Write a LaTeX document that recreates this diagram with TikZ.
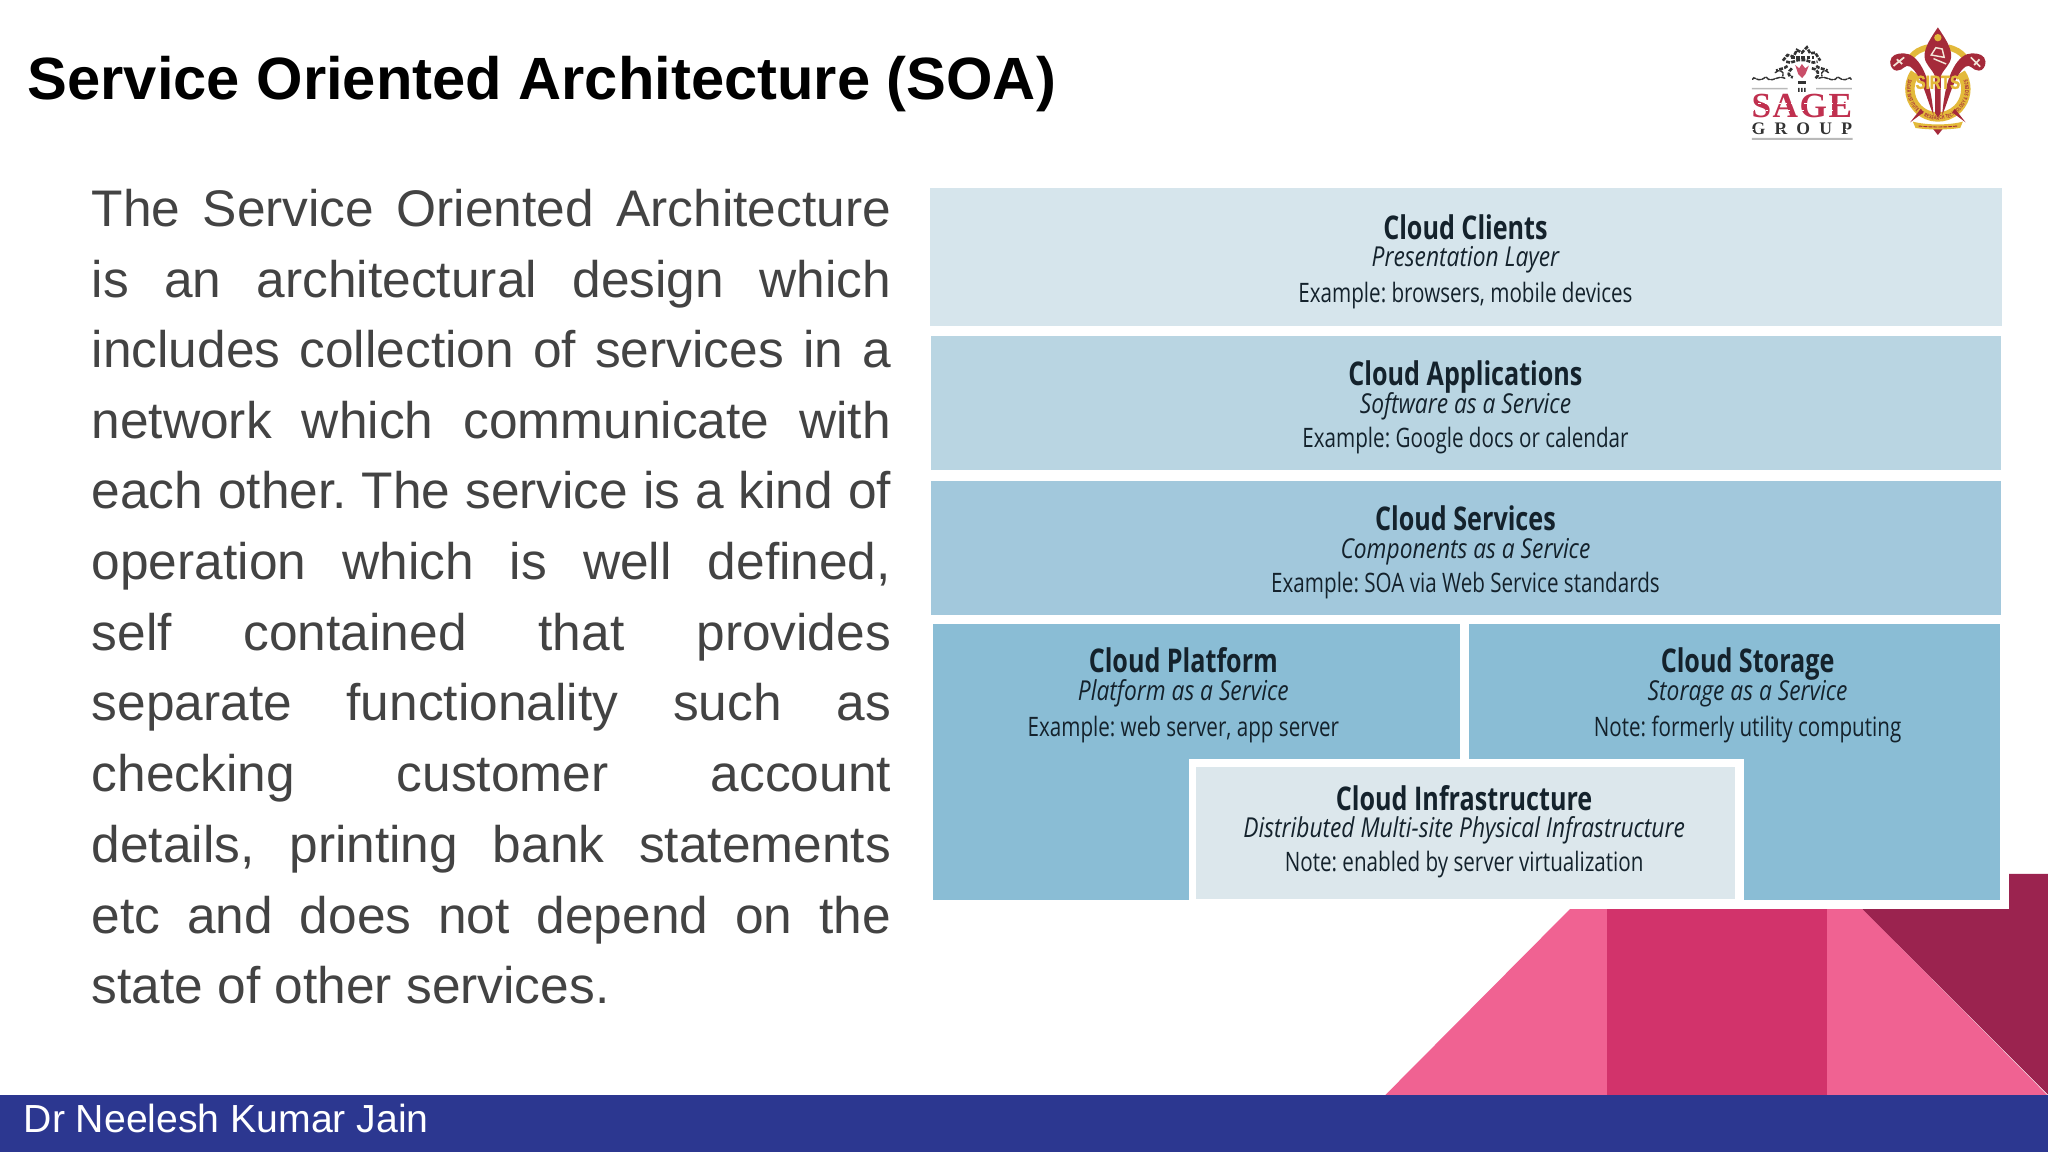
\documentclass[tikz,border=0pt]{standalone}
\usepackage{fontspec}
\usetikzlibrary{decorations.text}
\setmainfont{Liberation Sans}
\newfontfamily\bodyfont{Liberation Sans}
\newfontfamily\boxtitlefont[FakeStretch=0.77]{Open Sans}
\newfontfamily\boxsubfont[FakeStretch=0.83]{Open Sans}
\newfontfamily\boxnotefont[FakeStretch=0.77]{Open Sans}
\newfontfamily\logoserif{Liberation Serif}
\newfontfamily\narrowlogo[FakeStretch=0.8,FakeBold=1.5]{Liberation Sans}
\newfontfamily\ringfont[FakeStretch=0.62]{Liberation Sans}
\definecolor{barblue}{HTML}{2C3790}
\definecolor{pinklight}{HTML}{F06292}
\definecolor{pinkmid}{HTML}{D2336B}
\definecolor{maroon}{HTML}{9B234F}
\definecolor{bodygrey}{HTML}{434343}
\definecolor{boxA}{HTML}{D6E5EC}
\definecolor{boxB}{HTML}{B9D5E2}
\definecolor{boxC}{HTML}{A2C8DC}
\definecolor{boxD}{HTML}{8ABDD5}
\definecolor{boxE}{HTML}{DCE7EC}
\definecolor{boxtext}{HTML}{14222C}
\definecolor{logored}{HTML}{C0304F}
\definecolor{logomar}{HTML}{A52A3A}
\definecolor{logogold}{HTML}{E3B93A}
\definecolor{logodark}{HTML}{333333}
\definecolor{logocream}{HTML}{F3E6D8}
\tikzset{
  bodyline/.style={anchor=base west,inner sep=0pt,text=bodygrey,font=\bodyfont\fontsize{39.4}{39.4}\selectfont},
  boxtitle/.style={anchor=base,inner sep=0pt,text=boxtext,font=\boxtitlefont\bfseries\fontsize{25}{25}\selectfont},
  boxsub/.style={anchor=base,inner sep=0pt,text=boxtext,font=\boxsubfont\itshape\fontsize{21}{21}\selectfont},
  boxnote/.style={anchor=base,inner sep=0pt,text=boxtext,font=\boxnotefont\fontsize{20.5}{20.5}\selectfont},
  speck/.style={logodark,line width=2pt,line cap=butt,dash pattern=on 3pt off 1pt},
  fine/.style={logodark,line width=1.1pt,line cap=round,dash pattern=on 3pt off 1pt},
}
\newcommand{\boxlines}[7]{%
  \node[boxtitle] (#1t) at (#2,#3) {#5};
  \node[boxsub]   (#1s) at (#2,#3+21) {#6};
  \node[boxnote]  (#1n) at (#2,#4) {#7};
}
\newcommand{\fullline}[3]{\node[bodyline] (#1) at (70,#2) {\makebox[612pt][s]{#3}};}
\begin{document}
\frenchspacing
\begin{tikzpicture}[x=1pt,y=-1pt]
\useasboundingbox (0,0) rectangle (1568,882);
\fill[white] (0,0) rectangle (1568,882);
% decoration
\fill[pinklight] (1060,839) -- (1202,696) -- (1426,696) -- (1568,839) -- cycle;
\fill[pinkmid] (1230,696) rectangle (1399,839);
\fill[maroon] (1426,696) -- (1538,696) -- (1538,669) -- (1568,669) -- (1568,838) -- cycle;
\fill[barblue] (0,838.5) rectangle (1568,882);
\node[anchor=base west,inner sep=0pt,text=white,font=\bodyfont\fontsize{30}{30}\selectfont] (footer) at (18,867) {Dr Neelesh Kumar Jain};
% title
\node[anchor=base west,inner sep=0pt,font=\fontsize{45.7}{45.7}\selectfont\bfseries] (title) at (21,76) {Service Oriented Architecture (SOA)};
% body
\fullline{l1}{173.5}{The Service Oriented Architecture}
\fullline{l2}{227.5}{is an architectural design which}
\fullline{l3}{281.5}{includes collection of services in a}
\fullline{l4}{335.5}{network which communicate with}
\fullline{l5}{389.5}{each other. The service is a kind of}
\fullline{l6}{444}{operation which is well defined,}
\fullline{l7}{498}{self contained that provides}
\fullline{l8}{552}{separate functionality such as}
\fullline{l9}{606}{checking customer account}
\fullline{l10}{660.5}{details, printing bank statements}
\fullline{l11}{714.5}{etc and does not depend on the}
\node[bodyline] (l12) at (70,768.5) {state of other services.};
% panels
\fill[white] (706,140) rectangle (1538,696);
\fill[boxA] (712,144) rectangle (1533,249.5);
\fill[boxB] (713,257) rectangle (1532,359.5);
\fill[boxC] (713,368) rectangle (1532,470.5);
\fill[boxD] (714,478) rectangle (1118,689);
\fill[boxD] (1125,478) rectangle (1531,689);
\fill[white] (910,581) rectangle (1335,696);
\fill[boxE] (916,587) rectangle (1328,688);
\boxlines{a}{1122}{183}{231.5}{Cloud Clients}{Presentation Layer}{Example: browsers, mobile devices}
\boxlines{b}{1122}{295.5}{342.5}{Cloud Applications}{Software as a Service}{Example: Google docs or calendar}
\boxlines{c}{1122}{406.5}{453.5}{Cloud Services}{Components as a Service}{Example: SOA via Web Service standards}
\boxlines{d}{906}{515}{563.5}{Cloud Platform}{Platform as a Service}{Example: web server, app server}
\boxlines{e}{1338}{515}{563.5}{Cloud Storage}{Storage as a Service}{Note: formerly utility computing}
\boxlines{f}{1121}{620.5}{667.5}{Cloud Infrastructure}{Distributed Multi-site Physical Infrastructure}{Note: enabled by server virtualization}
% SAGE logo
\begin{scope}[shift={(1301.7,0)},x=0.2552pt,y=-0.2552pt]
  % crown
  \draw[speck] (248,182) -- (262,165) -- (280,170) -- (290,150) -- (305,158) -- (320,142) -- (330,160) -- (345,158) -- (360,182);
  \draw[speck] (258,185) .. controls (275,195) and (290,175) .. (305,180) .. controls (320,175) and (335,195) .. (352,185);
  \draw[speck] (272,172) -- (340,172);
  \draw[speck] (262,198) .. controls (250,208) and (240,205) .. (228,212) (348,198) .. controls (360,208) and (372,205) .. (382,212);
  \draw[speck] (275,205) .. controls (262,215) and (262,232) .. (278,232);
  \draw[speck] (335,205) .. controls (352,205) and (362,225) .. (345,235);
  % side scrolls
  \draw[fine] (157,238) .. controls (160,225) and (170,245) .. (185,238) .. controls (195,235) and (195,225) .. (205,238) .. controls (222,245) and (230,225) .. (255,235);
  \draw[fine] (453,238) .. controls (450,225) and (440,245) .. (425,238) .. controls (415,235) and (415,225) .. (405,238) .. controls (388,245) and (380,225) .. (355,235);
  \draw[fine] (225,218) .. controls (235,205) and (255,215) .. (248,228);
  \draw[fine] (385,218) .. controls (375,205) and (360,215) .. (365,228);
  % red emblem
  \fill[logored,opacity=.85] (285,195) -- (297,205) -- (305,192) -- (315,205) -- (326,197) -- (316,222) -- (306,234) -- (294,222) -- cycle;
  \fill[logodark] (293,243) rectangle (316,253);
  \fill[gray!55] (155,264) rectangle (262,268) (348,264) rectangle (455,268) (155,414) rectangle (457,420);
  \fill[logodark] (294,264) rectangle (298,276) (303,264) rectangle (307,276) (312,264) rectangle (316,276);
  \node[anchor=base,inner sep=0pt,text=logored,font=\logoserif\bfseries\fontsize{27}{27}\selectfont] (sage) at (305,354) {\makebox[77pt][s]{S\hfil A\hfil G\hfil E}};
  \node[anchor=base,inner sep=0pt,text=logodark,font=\logoserif\bfseries\fontsize{13.5}{13.5}\selectfont] (group) at (305,405) {\makebox[77pt][s]{G\hfil R\hfil O\hfil U\hfil P}};
  % stencil cuts
  \draw[white,line width=.7pt,dash pattern=on 2pt off 3pt] (155,310) -- (455,310);
  \draw[white,line width=.6pt,dash pattern=on 1.5pt off 4pt] (155,332) -- (455,332);
  \draw[white,line width=.5pt,dash pattern=on 1.5pt off 4pt] (155,388) -- (455,388);
\end{scope}
% SIRTS logo
\begin{scope}[shift={(1301.7,0)},x=0.2552pt,y=-0.2552pt]
  % ring and upper arcs
  \draw[logogold,line width=7.2pt] (713,267) ++(215:84) arc[start angle=215,end angle=-35,radius=84];
  \draw[logogold,line width=4.5pt] (632,172) .. controls (645,155) and (660,148) .. (682,142);
  \draw[logogold,line width=4.5pt] (794,172) .. controls (781,155) and (766,148) .. (744,142);
  % spikes
  \fill[logomar] (630,367) -- (662,326) -- (670,337) -- cycle;
  \fill[logomar] (796,367) -- (764,326) -- (756,337) -- cycle;
  % ring text
  \path[decorate,decoration={text along path,text align={fit to path},
    text={|\ringfont\bfseries\fontsize{4.2}{4.2}\selectfont\color{logomar}|SAGAR INSTITUTE OF RESEARCH TECHNOLOGY {\&} SCIENCE}}]
    (713,267) ++(198:93) arc[start angle=198,end angle=-18,radius=93];
  % arms
  \fill[logomar] (570,185) .. controls (572,165) and (590,160) .. (610,160) .. controls (650,160) and (690,215) .. (700,345) .. controls (680,300) and (665,225) .. (630,200) .. controls (615,190) and (610,212) .. (590,212) .. controls (578,212) and (570,200) .. (570,185) -- cycle;
  \fill[logomar] (856,185) .. controls (854,165) and (836,160) .. (816,160) .. controls (776,160) and (736,215) .. (726,345) .. controls (746,300) and (761,225) .. (796,200) .. controls (811,190) and (816,212) .. (836,212) .. controls (848,212) and (856,200) .. (856,185) -- cycle;
  % centre petal
  \fill[logomar] (713,82) .. controls (695,110) and (672,140) .. (673,170) .. controls (675,195) and (695,205) .. (704,228) -- (705,340) -- (713,352) -- (721,340) -- (722,228) .. controls (731,205) and (751,195) .. (753,170) .. controls (754,140) and (731,110) .. (713,82) -- cycle;
  \fill[logogold] (713,113) circle[radius=11];
  \draw[logocream,line width=1.1pt] (693,165) -- (707,143) -- (726,147) -- (732,172) -- cycle (700,176) -- (738,192);
  \draw[logocream,line width=1.3pt] (580,198) -- (612,172) (590,178) -- (606,192);
  \draw[logocream,line width=1.3pt] (812,172) -- (840,200) (822,195) -- (838,178);
  % banner and tip
  \fill[logomar] (697,385) -- (729,385) -- (713,405) -- cycle;
  \fill[logogold] (638,365) .. controls (680,376) and (746,376) .. (788,365) -- (780,384) .. controls (740,390) and (686,390) .. (646,384) -- cycle;
  \draw[logomar,line width=.7pt,dash pattern=on 3pt off .8pt] (655,378) .. controls (690,382) and (736,382) .. (772,378);
  \node[inner sep=0pt,text=logogold,font=\narrowlogo\bfseries\fontsize{14.5}{14.5}\selectfont] (sirts) at (713,247) {SIRTS};
\end{scope}
\end{tikzpicture}
\end{document}
